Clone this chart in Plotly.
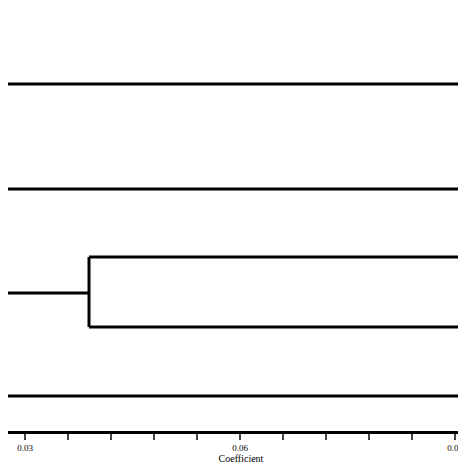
import plotly.graph_objects as go

# dendrogram segments (coefficient, row position)
seg_x = [
    [0.0270, 0.08116], [0.08116, 0.08116], [0.08116, 0.0830], [0.08116, 0.0830],
    [0.0270, 0.0830],
    [0.0270, 0.03744], [0.03744, 0.03744], [0.03744, 0.0830], [0.03744, 0.0830],
    [0.0270, 0.0830],
]
seg_y = [
    [76, 76], [43, 112], [43, 43], [112, 112],
    [181, 181],
    [285, 285], [249, 319], [249, 249], [319, 319],
    [388, 388],
]
tick_vals = [0.03 + i * 0.005 for i in range(11)]
tick_text = ["0.03", "", "", "", "", "0.06", "", "", "", "", "0.08"]

fig = go.Figure()
for xs, ys in zip(seg_x, seg_y):
    fig.add_trace(go.Scatter(x=xs, y=ys, mode="lines",
                             line=dict(color="black", width=3), showlegend=False))

fig.update_layout(
    width=466, height=466, margin=dict(l=0, r=0, t=0, b=43, autoexpand=False),
    plot_bgcolor="white", paper_bgcolor="white",
    font=dict(family="Liberation Serif", color="black"),
)
fig.update_xaxes(range=[0.02802, 0.08221], tickvals=tick_vals, ticktext=tick_text,
                 ticks="outside", ticklen=6, tickwidth=2, showgrid=False, automargin=False,
                 zeroline=False, showline=True, linecolor="black", linewidth=3,
                 tickfont=dict(size=9), title=dict(text="Coefficient", font=dict(size=10), standoff=2))
fig.update_yaxes(range=[423, 0], visible=False, automargin=False)
fig.write_html("out.html")
